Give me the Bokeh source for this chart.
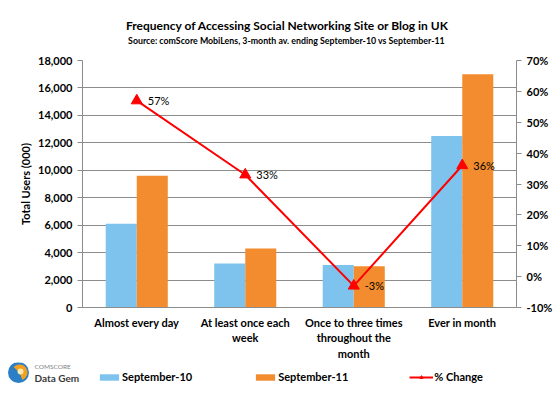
from bokeh.plotting import figure
from bokeh.layouts import column
from bokeh.models import (Range1d, FactorRange, LinearAxis, NumeralTickFormatter,
                          FixedTicker, Label, Legend, LegendItem, ColumnDataSource)
from bokeh.transform import dodge
from bokeh.core.properties import value
from bokeh.embed import file_html
from bokeh.resources import INLINE

title_text = "Frequency of Accessing Social Networking Site or Blog in UK"
subtitle_text = "Source: comScore MobiLens, 3-month av. ending September-10 vs September-11"
categories = ["Almost every day", "At least once each\nweek",
              "Once to three times\nthroughout the\nmonth", "Ever in month"]
sep10 = [6100, 3200, 3100, 12500]
sep11 = [9600, 4300, 3000, 17000]
pct_change = [0.57, 0.33, -0.03, 0.36]
pct_labels = ["57%", "33%", "-3%", "36%"]
left_ticks = [0, 2000, 4000, 6000, 8000, 10000, 12000, 14000, 16000, 18000]
right_ticks = [-0.1, 0.0, 0.1, 0.2, 0.3, 0.4, 0.5, 0.6, 0.7]
series_names = ["September-10", "September-11", "% Change"]

FONT = "Lato"
BLUE = "#7dc3ee"
ORANGE = "#f28c2e"
RED = "#ff0000"
GRID = "#8c8c8c"
W = 557


def blank(height):
    f = figure(width=W, height=height, output_backend="svg", toolbar_location=None,
               x_range=Range1d(0, W), y_range=Range1d(0, height),
               x_axis_type=None, y_axis_type=None, min_border=0)
    f.frame_align = False
    f.outline_line_color = None
    f.grid.visible = False
    return f


# ---------- title strip ----------
top = blank(50)
top.add_layout(Label(x=287, y=25, text=title_text, text_align="center",
                     text_baseline="middle", text_font=FONT, text_font_style="bold",
                     text_font_size="12px", text_color="black"))
top.add_layout(Label(x=286, y=10, text=subtitle_text, text_align="center",
                     text_baseline="middle", text_font=FONT, text_font_style="bold",
                     text_font_size="8.8px", text_color="black"))

# ---------- main chart ----------
src = ColumnDataSource(dict(cat=categories, s10=sep10, s11=sep11,
                            pct=pct_change, lab=pct_labels))

p = figure(width=W, height=312, output_backend="svg", toolbar_location=None,
           x_range=FactorRange(factors=categories, range_padding=0),
           y_range=Range1d(0, 18000),
           min_border_left=82, min_border_right=41, min_border_top=10,
           min_border_bottom=52)
p.extra_y_ranges = {"pct": Range1d(-0.1, 0.7)}
p.outline_line_color = None

p.vbar(x=dodge("cat", -0.143, range=p.x_range), top="s10", width=0.286,
       source=src, fill_color=BLUE, line_color=None)
p.vbar(x=dodge("cat", 0.143, range=p.x_range), top="s11", width=0.286,
       source=src, fill_color=ORANGE, line_color=None)
p.line(x="cat", y="pct", source=src, y_range_name="pct", line_color=RED, line_width=2)
p.scatter(x="cat", y="pct", source=src, y_range_name="pct", marker="triangle",
          size=11, fill_color=RED, line_color=RED)
p.text(x="cat", y="pct", text="lab", source=src, y_range_name="pct",
       x_offset=11, text_baseline="middle", text_align="left",
       text_font=value(FONT), text_font_size="11px", text_color="black")

ya = p.yaxis[0]
ya.ticker = FixedTicker(ticks=left_ticks)
ya.formatter = NumeralTickFormatter(format="0,0")
ya.axis_label = "Total Users (000)"
ya.axis_label_text_font = FONT
ya.axis_label_text_font_style = "bold"
ya.axis_label_text_font_size = "11px"
ya.axis_label_text_color = "black"
ya.axis_label_standoff = 3

ra = LinearAxis(y_range_name="pct", ticker=FixedTicker(ticks=right_ticks),
                formatter=NumeralTickFormatter(format="0%"))
p.add_layout(ra, "right")

for ax in (ya, ra):
    ax.major_label_text_font = FONT
    ax.major_label_text_font_style = "bold"
    ax.major_label_text_font_size = "11px"
    ax.major_label_text_color = "black"
    ax.major_label_standoff = 5
    ax.axis_line_color = GRID
    ax.major_tick_line_color = GRID
    ax.major_tick_out = 5
    ax.major_tick_in = 0
    ax.minor_tick_line_color = None

xa = p.xaxis[0]
xa.major_label_text_font = FONT
xa.major_label_text_font_style = "bold"
xa.major_label_text_font_size = "11px"
xa.major_label_text_color = "black"
xa.major_label_standoff = 2
xa.axis_line_color = GRID
xa.major_tick_line_color = None
xa.minor_tick_line_color = None

p.xgrid.grid_line_color = None
p.ygrid.grid_line_color = GRID
p.ygrid.grid_line_width = 1

# ---------- legend / logo strip ----------
bot = blank(32)
bot.scatter(x=[18], y=[22], size=21, fill_color="#2a7fc6", line_color=None)
bot.wedge(x=[19], y=[22], radius=8, start_angle=-1.2, end_angle=2.4,
          fill_color="#f5a01f", line_color=None)
bot.scatter(x=[20], y=[23], size=6, fill_color="#fbe9b0", line_color=None)
bot.add_layout(Label(x=34, y=28, text="COMSCORE", text_baseline="middle",
                     text_font=FONT, text_font_size="6.5px", text_color="#808080"))
bot.add_layout(Label(x=34, y=17, text="Data Gem", text_baseline="middle",
                     text_font=FONT, text_font_style="bold", text_font_size="10px",
                     text_color="#3a3a3a"))

# legend-only renderers, placed off the visible strip
off_x = [-1000]
off_y = [-1000]
lb1 = bot.vbar(x=off_x, top=off_y, width=1, fill_color=BLUE, line_color=None)
lb2 = bot.vbar(x=off_x, top=off_y, width=1, fill_color=ORANGE, line_color=None)
lb3 = bot.line(x=off_x, y=off_y, line_color=RED, line_width=2)
lb4 = bot.scatter(x=off_x, y=off_y, marker="triangle", size=9, fill_color=RED, line_color=RED)
legend = Legend(items=[LegendItem(label=series_names[0], renderers=[lb1]),
                       LegendItem(label=series_names[1], renderers=[lb2]),
                       LegendItem(label=series_names[2], renderers=[lb3, lb4])],
                orientation="horizontal", location=(97, 11),
                glyph_width=24, glyph_height=8, label_standoff=1, spacing=61,
                padding=0, margin=0, border_line_color=None,
                background_fill_alpha=0, label_height=12,
                label_text_font=FONT, label_text_font_style="bold",
                label_text_font_size="11px", label_text_color="black")
bot.add_layout(legend)

layout = column(top, p, bot, spacing=0)
open("out.html", "w").write(file_html(layout, INLINE))
